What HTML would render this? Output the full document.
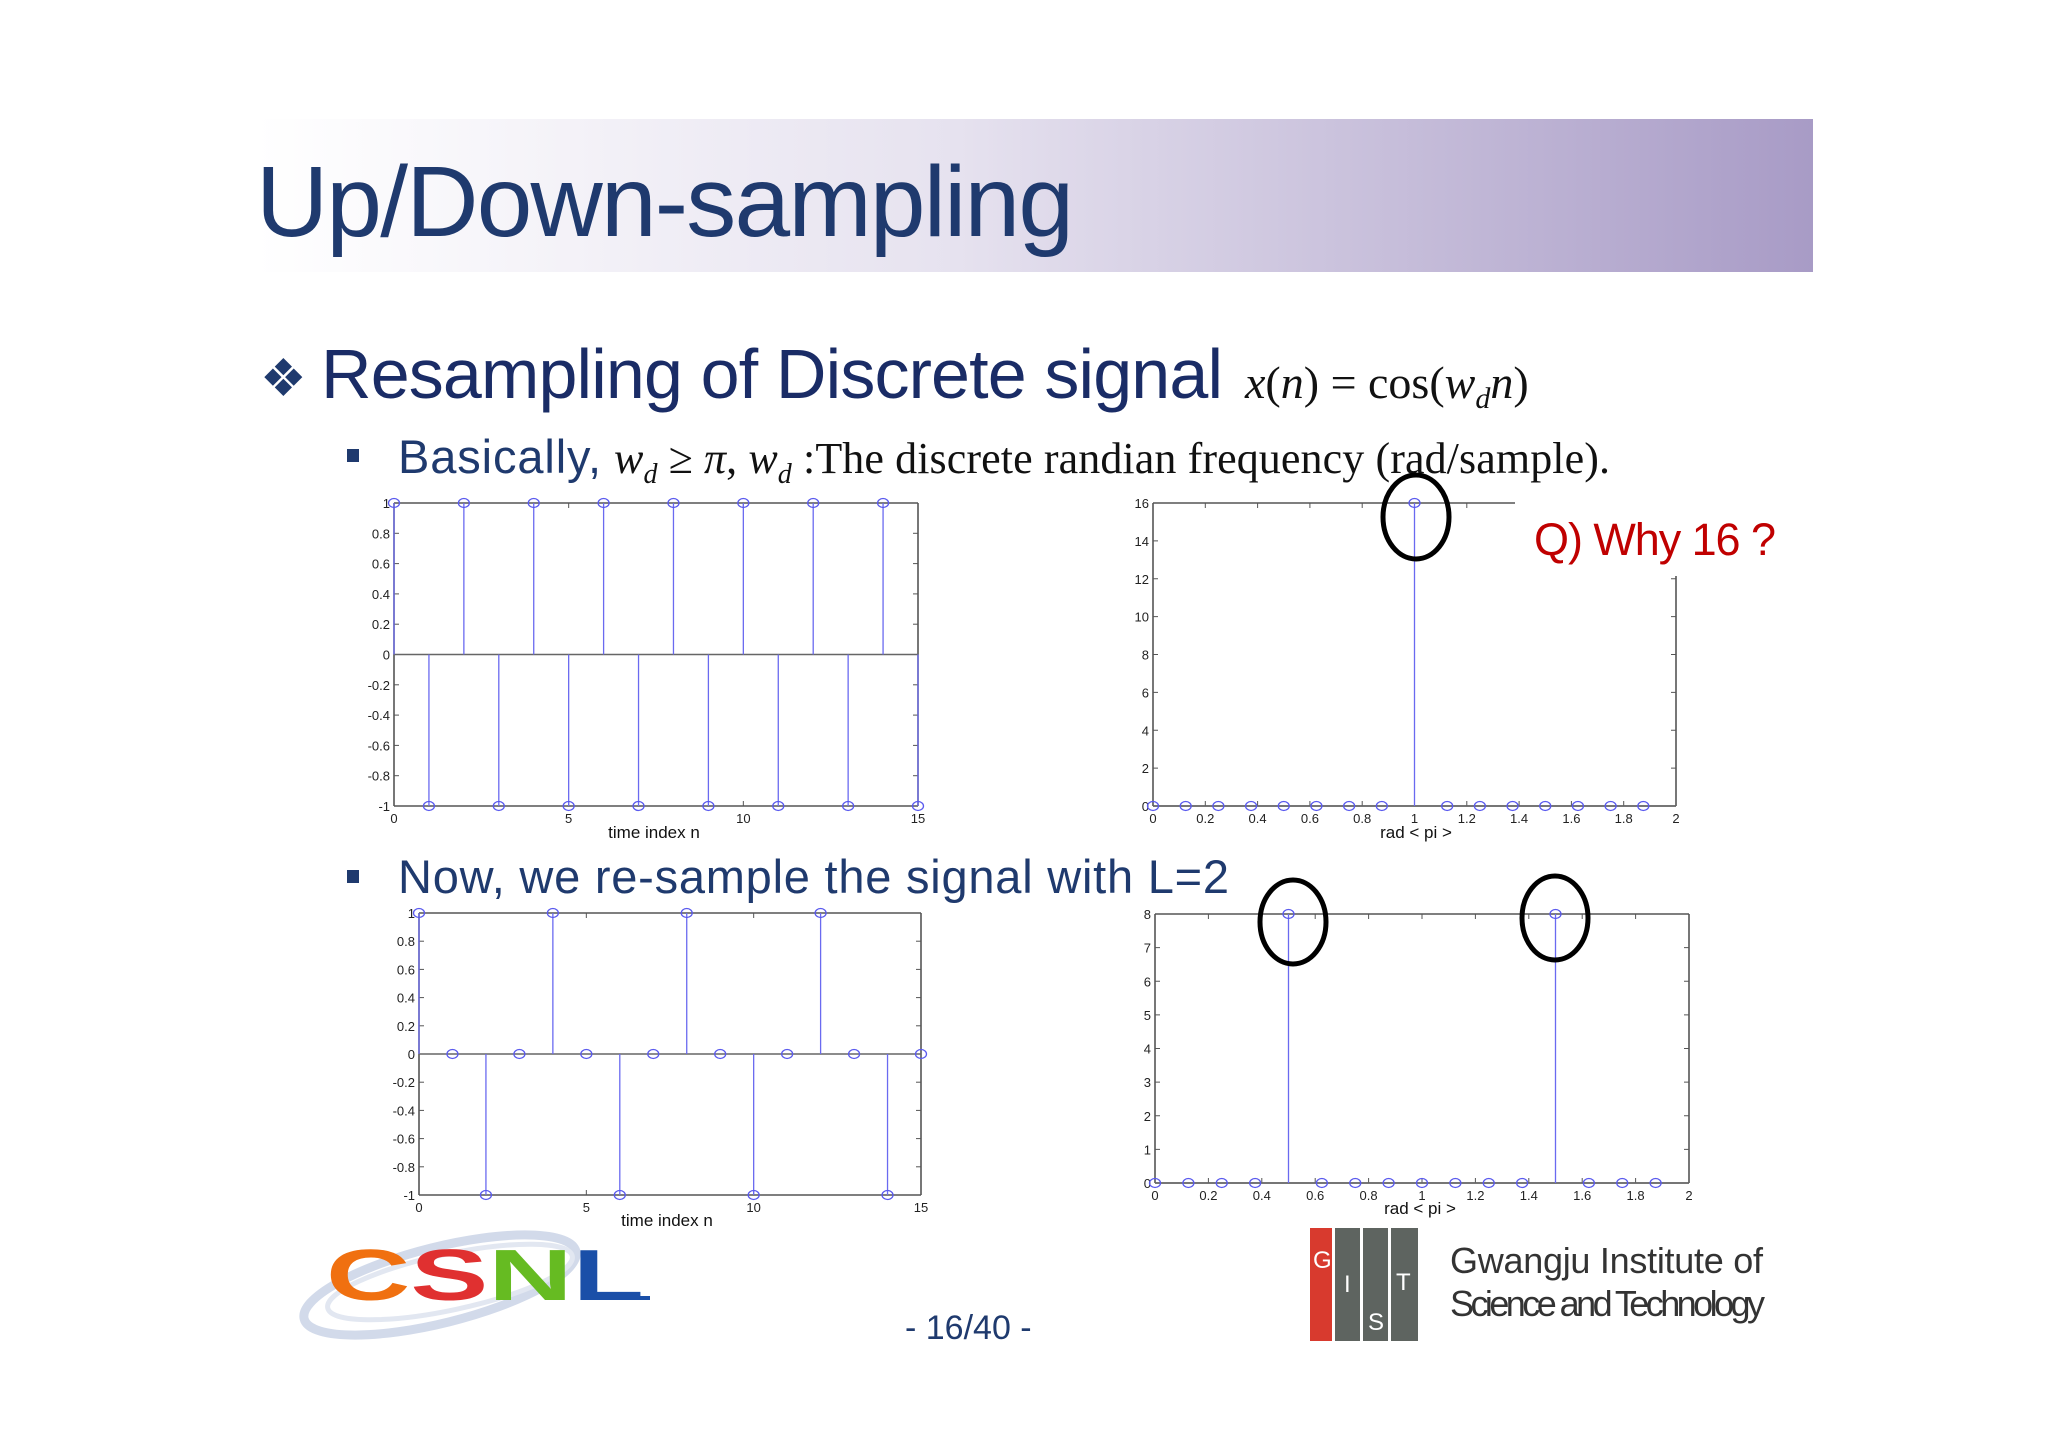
<!DOCTYPE html>
<html><head><meta charset="utf-8"><style>
html,body{margin:0;padding:0;background:#fff;}
svg{display:block;}
text{font-family:"Liberation Sans",Arial,sans-serif;}
.serif{font-family:"Liberation Serif","Times New Roman",serif;}
</style></head><body>
<svg id="slide" width="2048" height="1448" viewBox="0 0 2048 1448" xmlns="http://www.w3.org/2000/svg">
<defs>
<linearGradient id="hdr" x1="0" x2="1" y1="0" y2="0">
<stop offset="0" stop-color="#ffffff"/><stop offset="0.45" stop-color="#e6e2ef"/><stop offset="1" stop-color="#a89bc6"/>
</linearGradient>
</defs>
<rect x="256" y="119" width="1557" height="153" fill="url(#hdr)"/>
<text x="256" y="236" font-size="100" fill="#1f3a6e" textLength="818">Up/Down-sampling</text>

<g>
<text x="260" y="396" font-size="52" fill="#1f3a6e">❖</text>
<text x="321" y="398" font-size="70" fill="#1a2c66" textLength="902">Resampling of Discrete signal</text>
<text class="serif" x="1245" y="398" font-size="46" fill="#111"><tspan font-style="italic">x</tspan>(<tspan font-style="italic">n</tspan>) = cos(<tspan font-style="italic">w</tspan><tspan font-style="italic" font-size="30" dy="10">d</tspan><tspan font-style="italic" dy="-10">n</tspan>)</text>
</g>

<rect x="347" y="449" width="12" height="13" fill="#1f3a6e"/>
<text x="398" y="473" font-size="47" fill="#1f3a6e" textLength="203">Basically,</text>
<text class="serif" x="614" y="473" font-size="44" fill="#111" textLength="996"><tspan font-style="italic">w</tspan><tspan font-style="italic" font-size="28" dy="10">d</tspan><tspan dy="-10"> ≥ </tspan><tspan font-style="italic">π</tspan>,  <tspan font-style="italic">w</tspan><tspan font-style="italic" font-size="28" dy="10">d</tspan><tspan dy="-10"> :The discrete randian frequency (rad/sample).</tspan></text>

<rect x="347" y="870" width="12" height="13" fill="#1f3a6e"/>
<text x="398" y="893" font-size="47" fill="#1f3a6e" textLength="831">Now, we re-sample the signal with L=2</text>

<text x="1534" y="555" font-size="45" fill="#c00000" textLength="242">Q) Why 16 ?</text>

<g id="charts"></g>

<ellipse cx="1416" cy="517" rx="33" ry="42" fill="none" stroke="#000" stroke-width="5"/>
<ellipse cx="1293" cy="922" rx="33" ry="42" fill="none" stroke="#000" stroke-width="5"/>
<ellipse cx="1555" cy="918" rx="33" ry="42" fill="none" stroke="#000" stroke-width="5"/>

<g>
<ellipse cx="440" cy="1285" rx="140" ry="38" transform="rotate(-14 440 1285)" fill="none" stroke="#d2daea" stroke-width="9"/>
<ellipse cx="450" cy="1282" rx="125" ry="28" transform="rotate(-12 450 1282)" fill="none" stroke="#e2e7f1" stroke-width="5"/>
<text x="326" y="1300" font-size="72" font-weight="bold" textLength="318" lengthAdjust="spacingAndGlyphs"><tspan fill="#f07010">C</tspan><tspan fill="#e03030">S</tspan><tspan fill="#66bb22">N</tspan><tspan fill="#1a4fa8">L</tspan></text>
<rect x="590" y="1296" width="60" height="4" fill="#1a4fa8"/>
</g>

<text x="905" y="1339" font-size="34" fill="#1f3a6e">- 16/40 -</text>

<g>
<rect x="1310" y="1228" width="22" height="113" fill="#d83a2e"/>
<rect x="1335" y="1228" width="25" height="113" fill="#5e6460"/>
<rect x="1363" y="1228" width="25" height="113" fill="#5e6460"/>
<rect x="1391" y="1228" width="27" height="113" fill="#5e6460"/>
<text x="1313" y="1268" font-size="24" fill="#fff">G</text>
<text x="1344" y="1292" font-size="24" fill="#fff">I</text>
<text x="1368" y="1330" font-size="24" fill="#fff">S</text>
<text x="1396" y="1290" font-size="24" fill="#fff">T</text>
<text x="1450" y="1273" font-size="36" fill="#333" textLength="313">Gwangju Institute of</text>
<text x="1450" y="1316" font-size="36" fill="#333" textLength="315">Science and Technology</text>
</g>
</svg>
<script>
// Chart data
const p1X = [0,1,2,3,4,5,6,7,8,9,10,11,12,13,14,15];
const p1Y = [1,-1,1,-1,1,-1,1,-1,1,-1,1,-1,1,-1,1,-1];
const p2X = [0,0.125,0.25,0.375,0.5,0.625,0.75,0.875,1,1.125,1.25,1.375,1.5,1.625,1.75,1.875];
const p2Y = [0,0,0,0,0,0,0,0,16,0,0,0,0,0,0,0];
const p3X = [0,1,2,3,4,5,6,7,8,9,10,11,12,13,14,15];
const p3Y = [1,0,-1,0,1,0,-1,0,1,0,-1,0,1,0,-1,0];
const p4X = [0,0.125,0.25,0.375,0.5,0.625,0.75,0.875,1,1.125,1.25,1.375,1.5,1.625,1.75,1.875];
const p4Y = [0,0,0,0,8,0,0,0,0,0,0,0,8,0,0,0];
const timeTicksX = [0,5,10,15];
const freqTicksX = [0,0.2,0.4,0.6,0.8,1,1.2,1.4,1.6,1.8,2];
const freqTickLabels = ["0","0.2","0.4","0.6","0.8","1","1.2","1.4","1.6","1.8","2"];
const ampTicksY = [-1,-0.8,-0.6,-0.4,-0.2,0,0.2,0.4,0.6,0.8,1];
const ampTickLabels = ["-1","-0.8","-0.6","-0.4","-0.2","0","0.2","0.4","0.6","0.8","1"];
const p2TicksY = [0,2,4,6,8,10,12,14,16];
const p4TicksY = [0,1,2,3,4,5,6,7,8];

const NS = "http://www.w3.org/2000/svg";
const root = document.getElementById('charts');
function mk(tag, attrs, parent){
  const e = document.createElementNS(NS, tag);
  for (const k in attrs) e.setAttribute(k, attrs[k]);
  parent.appendChild(e);
  return e;
}
function chart(name, box, xd, yd, xs, ys, xt, xtl, yt, ytl, xlabel, xlabelPos, opts){
  const g = mk('g', {}, root);
  
  
  const sx = v => box.l + (v - xd[0]) / (xd[1] - xd[0]) * (box.r - box.l);
  const sy = v => box.b - (v - yd[0]) / (yd[1] - yd[0]) * (box.b - box.t);
  const ax = '#555';
  mk('line', {x1:box.l, y1:box.t, x2:box.l, y2:box.b, stroke:ax, 'stroke-width':1.6}, g);
  mk('line', {x1:box.l, y1:box.b, x2:box.r, y2:box.b, stroke:ax, 'stroke-width':1.6}, g);
  mk('line', {x1:box.l, y1:box.t, x2:(opts.topEnd||box.r), y2:box.t, stroke:ax, 'stroke-width':1.6}, g);
  mk('line', {x1:box.r, y1:(opts.rightStart||box.t), x2:box.r, y2:box.b, stroke:ax, 'stroke-width':1.6}, g);
  xt.forEach((v,i) => {
    const x = sx(v);
    mk('line', {x1:x, y1:box.b, x2:x, y2:box.b-5, stroke:ax, 'stroke-width':1}, g);
    if (!opts.topEnd || x <= opts.topEnd) mk('line', {x1:x, y1:box.t, x2:x, y2:box.t+5, stroke:ax, 'stroke-width':1}, g);
    const t = mk('text', {x:x, y:box.b+17, 'font-size':13, 'text-anchor':'middle', fill:'#222'}, g);
    t.textContent = xtl[i];
    
    
  });
  yt.forEach((v,i) => {
    const y = sy(v);
    mk('line', {x1:box.l, y1:y, x2:box.l+5, y2:y, stroke:ax, 'stroke-width':1}, g);
    if (!opts.rightStart || y >= opts.rightStart) mk('line', {x1:box.r, y1:y, x2:box.r-5, y2:y, stroke:ax, 'stroke-width':1}, g);
    const t = mk('text', {x:box.l-4, y:y+5, 'font-size':13, 'text-anchor':'end', fill:'#222'}, g);
    t.textContent = ytl[i];
    
    
  });
  mk('line', {x1:box.l, y1:sy(0), x2:box.r, y2:sy(0), stroke:'#666', 'stroke-width':1.4}, g);
  xs.forEach((v,i) => {
    const x = sx(v), y = sy(ys[i]);
    const s = mk('line', {x1:x, y1:sy(0), x2:x, y2:y, stroke:'#6a6af0', 'stroke-width':1.3}, g);
    
    
    const c = mk('ellipse', {cx:x, cy:y, rx:5.5, ry:4.5, fill:'none', stroke:'#5a5aee', 'stroke-width':1.3}, g);
    
    
  });
  const lab = mk('text', {x:xlabelPos[0], y:xlabelPos[1], 'font-size':17, 'text-anchor':'middle', fill:'#111'}, g);
  lab.textContent = xlabel;
  
  
}
const timeLabels = timeTicksX.map(String);
chart('original-signal-chart', {l:394,r:918,t:503,b:806}, [0,15], [-1,1], p1X, p1Y, timeTicksX, timeLabels, ampTicksY, ampTickLabels, 'time index n', [654,838], {});
chart('original-spectrum-chart', {l:1153,r:1676,t:503,b:806}, [0,2], [0,16], p2X, p2Y, freqTicksX, freqTickLabels, p2TicksY, p2TicksY.map(String), 'rad < pi >', [1416,838], {topEnd:1515, rightStart:576});
chart('upsampled-signal-chart', {l:419,r:921,t:913,b:1195}, [0,15], [-1,1], p3X, p3Y, timeTicksX, timeLabels, ampTicksY, ampTickLabels, 'time index n', [667,1226], {});
chart('upsampled-spectrum-chart', {l:1155,r:1689,t:914,b:1183}, [0,2], [0,8], p4X, p4Y, freqTicksX, freqTickLabels, p4TicksY, p4TicksY.map(String), 'rad < pi >', [1420,1214], {});
</script>
</body></html>
